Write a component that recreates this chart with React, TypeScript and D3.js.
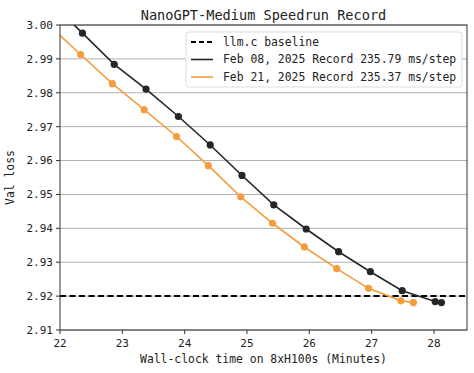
import React from 'react';
import * as d3 from 'd3';

// Feb 08, 2025 record
const feb08X = [21.84, 22.36, 22.87, 23.38, 23.9, 24.41, 24.92, 25.43, 25.95, 26.47, 26.98, 27.49, 28.02, 28.12];
const feb08Y = [3.0069, 2.9976, 2.9884, 2.9811, 2.973, 2.9646, 2.9556, 2.9469, 2.9398, 2.9331, 2.9272, 2.9216, 2.9184, 2.9181];

// Feb 21, 2025 record
const feb21X = [21.82, 22.33, 22.84, 23.35, 23.87, 24.38, 24.9, 25.41, 25.92, 26.44, 26.95, 27.47, 27.67];
const feb21Y = [3.0, 2.9913, 2.9827, 2.975, 2.9671, 2.9585, 2.9493, 2.9415, 2.9345, 2.9281, 2.9223, 2.9186, 2.9181];

const baseline = 2.92;
const xTicks = [22, 23, 24, 25, 26, 27, 28];
const yTicks = [2.91, 2.92, 2.93, 2.94, 2.95, 2.96, 2.97, 2.98, 2.99, 3.0];
const legendLabels = ['llm.c baseline', 'Feb 08, 2025 Record 235.79 ms/step', 'Feb 21, 2025 Record 235.37 ms/step'];

const BLACK = '#262626';
const ORANGE = '#f59d3e';
const FONT = '"DejaVu Sans Mono", monospace';

export default function App() {
  const width = 474;
  const height = 373;
  const m = { left: 60, right: 467, top: 25, bottom: 330 };

  const x = d3.scaleLinear().domain([22, 28.53]).range([m.left, m.right]);
  const y = d3.scaleLinear().domain([2.91, 3.0]).range([m.bottom, m.top]);

  const line = d3.line<[number, number]>()
    .x(d => x(d[0]))
    .y(d => y(d[1]));

  const series = [
    { xs: feb08X, ys: feb08Y, color: BLACK },
    { xs: feb21X, ys: feb21Y, color: ORANGE },
  ];

  return (
    <svg width={width} height={height} style={{ position: 'absolute', left: 0, top: 0 }} fontFamily={FONT}>
      <rect width={width} height={height} fill="#fff" />
      <defs>
        <clipPath id="plot">
          <rect x={m.left} y={m.top} width={m.right - m.left} height={m.bottom - m.top} />
        </clipPath>
      </defs>

      {/* grid */}
      {yTicks.map(t => (
        <line key={t} x1={m.left} x2={m.right} y1={y(t)} y2={y(t)} stroke="#b0b0b0" strokeWidth={1} />
      ))}

      {/* baseline */}
      <line x1={m.left} x2={m.right} y1={y(baseline)} y2={y(baseline)} stroke="#000" strokeWidth={2} strokeDasharray="6,3.5" />

      <g clipPath="url(#plot)">
        {series.map((s, i) => {
          const pts = s.xs.map((v, j) => [v, s.ys[j]] as [number, number]);
          return (
            <g key={i}>
              <path d={line(pts) || ''} fill="none" stroke={s.color} strokeWidth={1.6} />
              {pts.map((p, j) => (
                <circle key={j} cx={x(p[0])} cy={y(p[1])} r={3.6} fill={s.color} />
              ))}
            </g>
          );
        })}
      </g>

      {/* frame */}
      <rect x={m.left} y={m.top} width={m.right - m.left} height={m.bottom - m.top} fill="none" stroke="#333" strokeWidth={1} />

      {/* y ticks */}
      {yTicks.map(t => (
        <g key={t}>
          <line x1={m.left - 4} x2={m.left} y1={y(t)} y2={y(t)} stroke="#333" />
          <text x={m.left - 7} y={y(t)} dy="0.35em" textAnchor="end" fontSize={11} fill="#222">{t.toFixed(2)}</text>
        </g>
      ))}

      {/* x ticks */}
      {xTicks.map(t => (
        <g key={t}>
          <line x1={x(t)} x2={x(t)} y1={m.bottom} y2={m.bottom + 4} stroke="#333" />
          <text x={x(t)} y={m.bottom + 17} textAnchor="middle" fontSize={11} fill="#222">{t}</text>
        </g>
      ))}

      <text x={(m.left + m.right) / 2} y={19.5} textAnchor="middle" fontSize={13.6} fill="#222">NanoGPT-Medium Speedrun Record</text>
      <text x={(m.left + m.right) / 2} y={363} textAnchor="middle" fontSize={11.4} fill="#222">Wall-clock time on 8xH100s (Minutes)</text>
      <text transform={`translate(14, ${(m.top + m.bottom) / 2}) rotate(-90)`} textAnchor="middle" fontSize={11.4} fill="#222">Val loss</text>

      {/* legend */}
      <g>
        <rect x={186} y={32} width={276} height={55} rx={3} fill="#fff" fillOpacity={0.85} stroke="#ddd" />
        {legendLabels.map((lab, i) => {
          const ly = 42 + i * 17.5;
          const stroke = i === 0 ? '#000' : i === 1 ? BLACK : ORANGE;
          return (
            <g key={lab}>
              <line x1={191} x2={213} y1={ly} y2={ly} stroke={stroke} strokeWidth={i === 0 ? 2 : 1.6} strokeDasharray={i === 0 ? '5,3' : undefined} />
              <text x={223} y={ly} dy="0.35em" fontSize={11.4} fill="#222">{lab}</text>
            </g>
          );
        })}
      </g>
    </svg>
  );
}
